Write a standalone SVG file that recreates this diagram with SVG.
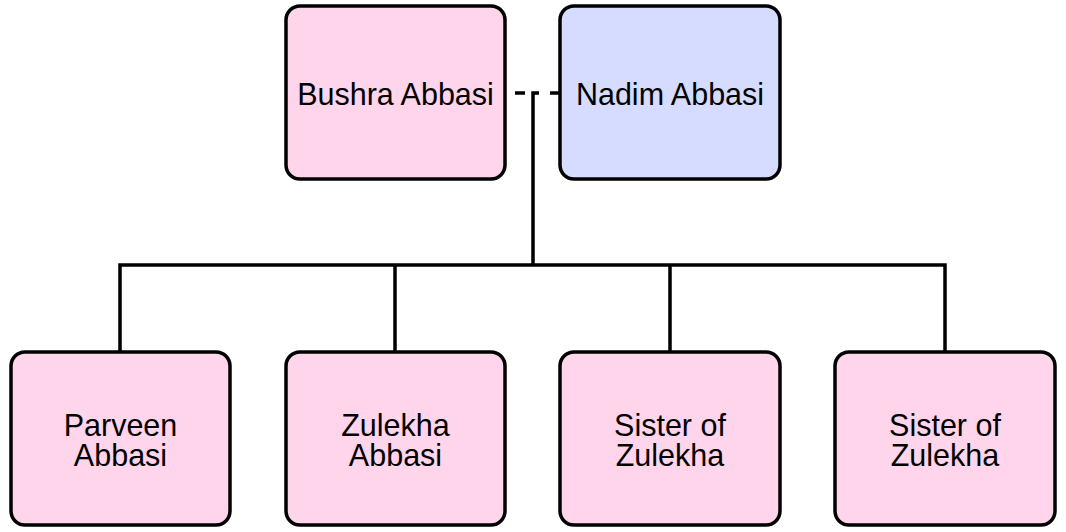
<svg xmlns="http://www.w3.org/2000/svg" width="1066" height="532" viewBox="0 0 1066 532">
<style>
.box{stroke:#000;stroke-width:3.5}
.f{fill:#FFD5EC}
.m{fill:#D6DCFF}
text{font-family:"Liberation Sans",Arial,sans-serif;font-size:30.5px;fill:#000;text-anchor:middle}
.c{fill:none;stroke:#000;stroke-width:3.5}
</style>
<rect width="1066" height="532" fill="#fff"/>
<g id="connectors">
<path class="c" d="M515,93 H525 M550,93 H560"/>
<path class="c" d="M539,93 H533 V265"/>
<path class="c" d="M120,352 V265 H945 V352 M395,265 V352 M670,265 V352"/>
</g>
<g id="bushra"><rect class="box f" x="286" y="6" width="219" height="173" rx="14"/><text x="395.5" y="105">Bushra Abbasi</text></g>
<g id="nadim"><rect class="box m" x="560" y="6" width="220" height="173" rx="14"/><text x="670" y="105">Nadim Abbasi</text></g>
<g id="parveen"><rect class="box f" x="11" y="352" width="219" height="173" rx="14"/><text x="120.5" y="436">Parveen</text><text x="120.5" y="466">Abbasi</text></g>
<g id="zulekha"><rect class="box f" x="286" y="352" width="219" height="173" rx="14"/><text x="395.5" y="436">Zulekha</text><text x="395.5" y="466">Abbasi</text></g>
<g id="sister1"><rect class="box f" x="560" y="352" width="220" height="173" rx="14"/><text x="670" y="436">Sister of</text><text x="670" y="466">Zulekha</text></g>
<g id="sister2"><rect class="box f" x="835" y="352" width="220" height="173" rx="14"/><text x="945" y="436">Sister of</text><text x="945" y="466">Zulekha</text></g>
</svg>
